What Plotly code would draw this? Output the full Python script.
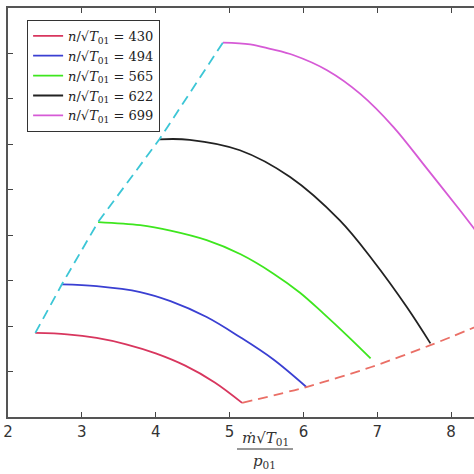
import plotly.graph_objects as go

# --- data ---
x_430 = [2.37, 2.8, 3.2, 3.6, 4.0, 4.4, 4.8, 5.17]
y_430 = [1.85, 1.82, 1.74, 1.60, 1.40, 1.13, 0.76, 0.31]

x_494 = [2.73, 3.2, 3.79, 4.2, 4.69, 5.14, 5.59, 6.04]
y_494 = [2.92, 2.88, 2.75, 2.55, 2.20, 1.76, 1.27, 0.66]

x_565 = [3.22, 3.79, 4.2, 4.69, 5.15, 5.59, 5.95, 6.27, 6.6, 6.91]
y_565 = [4.29, 4.22, 4.10, 3.89, 3.58, 3.16, 2.74, 2.28, 1.78, 1.29]

x_622 = [4.05, 4.46, 5.14, 5.82, 6.49, 6.94, 7.40, 7.72]
y_622 = [6.11, 6.10, 5.87, 5.28, 4.33, 3.45, 2.42, 1.62]

x_699 = [4.91, 5.28, 5.55, 5.87, 6.32, 6.77, 7.22, 7.67, 8.12, 8.30, 8.36]
y_699 = [8.24, 8.20, 8.10, 7.96, 7.63, 7.11, 6.38, 5.47, 4.55, 4.17, 4.04]

surge_x = [2.37, 2.73, 3.22, 4.05, 4.91]
surge_y = [1.85, 2.92, 4.29, 6.11, 8.24]

choke_x = [5.17, 6.04, 6.92, 7.72, 8.4]
choke_y = [0.31, 0.66, 1.10, 1.58, 2.03]

speeds = ["430", "494", "565", "622", "699"]
colors = ["#d8365e", "#3a3fd2", "#3ee61e", "#222222", "#d65ad6"]
x_tick_vals = [2, 3, 4, 5, 6, 7, 8]

curves = [(x_430, y_430), (x_494, y_494), (x_565, y_565), (x_622, y_622), (x_699, y_699)]

fig = go.Figure()
for (xs, ys), s, c in zip(curves, speeds, colors):
    fig.add_trace(go.Scatter(
        x=xs, y=ys, mode="lines",
        line=dict(color=c, width=1.8, shape="spline", smoothing=1.0),
        name="<i>n</i>/√<i>T</i><sub>01</sub> = " + s,
    ))

fig.add_trace(go.Scatter(x=surge_x, y=surge_y, mode="lines", showlegend=False,
                         line=dict(color="#3cc6d6", width=1.8, dash="10px,6px")))
fig.add_trace(go.Scatter(x=choke_x, y=choke_y, mode="lines", showlegend=False,
                         line=dict(color="#ea6f66", width=1.8, dash="10px,6px",
                                   shape="spline", smoothing=0.8)))

fig.update_layout(
    width=474, height=474,
    margin=dict(l=8, r=0, t=8, b=57),
    plot_bgcolor="white", paper_bgcolor="white",
    font=dict(family="DejaVu Sans", size=14, color="#333"),
    legend=dict(
        x=0.041, y=0.971, xanchor="left", yanchor="top",
        bgcolor="white", bordercolor="#333", borderwidth=1,
        font=dict(family="DejaVu Serif", size=13, color="#222"),
        tracegroupgap=0, itemwidth=30,
    ),
)
fig.update_xaxes(
    range=[2, 8.31], tickvals=x_tick_vals, ticks="inside", ticklen=5,
    showline=True, linecolor="#555", linewidth=1.5, mirror="ticks",
    showgrid=False, zeroline=False, tickfont=dict(size=15, color="#333"),
)
fig.update_yaxes(
    range=[0, 9], dtick=1, ticks="inside", ticklen=5, showticklabels=False,
    showline=True, linecolor="#555", linewidth=1.5,
    showgrid=False, zeroline=False,
)

# axis title as a fraction
fig.add_annotation(xref="paper", yref="paper", x=(265 - 8) / 466, y=-(438 - 417) / 409,
                   text="<i>ṁ</i>√<i>T</i><sub>01</sub>", showarrow=False,
                   font=dict(family="DejaVu Serif", size=15, color="#333"),
                   xanchor="center", yanchor="middle")
fig.add_shape(type="line", xref="paper", yref="paper",
              x0=(237 - 8) / 466, x1=(293 - 8) / 466,
              y0=-(449 - 417) / 409, y1=-(449 - 417) / 409,
              line=dict(color="#333", width=1.2))
fig.add_annotation(xref="paper", yref="paper", x=(264 - 8) / 466, y=-(461 - 417) / 409,
                   text="<i>p</i><sub>01</sub>", showarrow=False,
                   font=dict(family="DejaVu Serif", size=15, color="#333"),
                   xanchor="center", yanchor="middle")

fig.write_html("out.html")
